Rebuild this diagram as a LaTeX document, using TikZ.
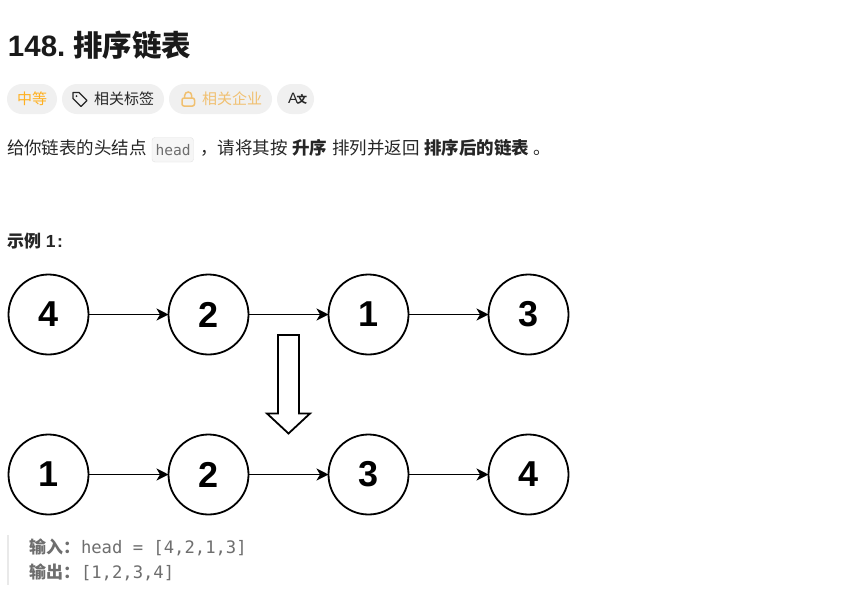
\documentclass[tikz,border=0pt]{standalone}
\usepackage{fontspec}
\setmainfont{Noto Sans CJK SC}
\newfontfamily\digitfont{Liberation Sans}
\newfontfamily\codefont{DejaVu Sans Mono}
\usetikzlibrary{arrows.meta}
\definecolor{ink}{HTML}{262626}
\definecolor{titleink}{HTML}{1A1A1A}
\definecolor{pill}{HTML}{F0F0F0}
\definecolor{amber}{HTML}{FFB020}
\definecolor{softamber}{HTML}{F0C070}
\definecolor{quote}{HTML}{6E6E6E}
\tikzset{
  x=1pt,y=-1pt,
  every node/.style={inner sep=0pt,outer sep=0pt},
  txt/.style={anchor=base west,text=ink,font=\fontsize{17.5}{17.5}\selectfont},
  bold/.style={anchor=base west,text=ink,font=\fontsize{17.5}{17.5}\selectfont\bfseries},
  tagtxt/.style={anchor=base west,font=\fontsize{15}{15}\selectfont},
  pillbox/.style={fill=pill,rounded corners=15pt,draw=none},
  item/.style={circle,draw=black,line width=1.8pt,minimum size=80pt,fill=white,font=\digitfont\bfseries\fontsize{36}{36}\selectfont,text=black},
  link/.style={draw=black,line width=1.8pt,-{Stealth[length=12pt,width=12pt,inset=3.5pt]}},
  qtxt/.style={anchor=base west,text=quote,font=\codefont\fontsize{17.2}{17.2}\selectfont},
  qbold/.style={anchor=base west,text=quote,font=\fontsize{17}{17}\selectfont\bfseries}
}
\begin{document}
\begin{tikzpicture}
\useasboundingbox (0,0) rectangle (844,595);
\fill[white] (0,0) rectangle (844,595);
% title
\node[anchor=base west,text=titleink,font=\fontsize{29.5}{30}\selectfont\bfseries] (title) at (8,56) {{\digitfont 148.}\hspace{8pt}排序链表};
% pills
\fill[pillbox] (7,84) rectangle (57,114);
\fill[pillbox] (62,84) rectangle (164,114);
\fill[pillbox] (169,84) rectangle (272,114);
\fill[pillbox] (277,84) rectangle (314,114);
\node[tagtxt,text=amber] (easy) at (17,104.5) {中等};
\draw[ink,line width=1.4pt,line join=round] (73,92.5) -- (79,92.5) -- (87,100.5) -- (81,106.5) -- (73,98.5) -- cycle;
\fill[ink] (76.5,96) circle (1pt);
\node[tagtxt,text=ink] (tags) at (94,104.5) {相关标签};
\draw[softamber,line width=1.5pt,rounded corners=2pt] (182,98) rectangle (194.5,106);
\draw[softamber,line width=1.5pt] (184.7,98) -- (184.7,95.5) arc (180:360:3.5) -- (191.7,98);
\node[tagtxt,text=softamber] (corp) at (202,104.5) {相关企业};
\node[anchor=base west,text=ink,font=\fontsize{15}{15}\selectfont] (lang) at (288,103.5) {{\digitfont A}\kern-1.5pt{\fontsize{10.5}{10.5}\selectfont\bfseries 文}};
% description
\node[txt] (d1) at (7,154) {给你链表的头结点};
\draw[fill=gray!7,draw=gray!22,rounded corners=3pt] (152,137.5) rectangle (193.5,162);
\node[anchor=base west,text=quote,font=\codefont\fontsize{14.6}{14.6}\selectfont] (code) at (155.5,155) {head};
\node[txt] (d2) at (200,154) {，请将其按};
\node[bold] (d3) at (292,154) {升序};
\node[txt] (d4) at (332,154) {排列并返回};
\node[bold] (d5) at (424,154) {排序后的链表};
\node[txt] (d6) at (533,154) {。};
\node[anchor=base west,text=ink,font=\fontsize{17}{17}\selectfont\bfseries] (ex) at (7,247) {示例\hspace{5pt}{\digitfont\fontsize{17.5}{17.5}\selectfont 1\kern1.5pt:}};
% lists
\node[item] (a1) at (48.5,314.5) {4};
\node[item] (a2) at (208.5,314.5) {2};
\node[item] (a3) at (368.5,314.5) {1};
\node[item] (a4) at (528.5,314.5) {3};
\node[item] (b1) at (48.5,474.5) {1};
\node[item] (b2) at (208.5,474.5) {2};
\node[item] (b3) at (368.5,474.5) {3};
\node[item] (b4) at (528.5,474.5) {4};
\draw[link] (a1) -- (a2);
\draw[link] (a2) -- (a3);
\draw[link] (a3) -- (a4);
\draw[link] (b1) -- (b2);
\draw[link] (b2) -- (b3);
\draw[link] (b3) -- (b4);
% block arrow
\draw[black,line width=1.8pt,miter limit=10] (278,335) -- (299,335) -- (299,413.5) -- (310,413.5) -- (288.5,433.5) -- (267,413.5) -- (278,413.5) -- cycle;
% quote
\fill[quote!15] (7,535) rectangle (9,585);
\node[qbold] (q1) at (29,553) {输入：};
\node[qtxt] (q2) at (81,553) {head = [4,2,1,3]};
\node[qbold] (q3) at (29,578) {输出：};
\node[qtxt] (q4) at (81,578) {[1,2,3,4]};
\end{tikzpicture}
\end{document}
